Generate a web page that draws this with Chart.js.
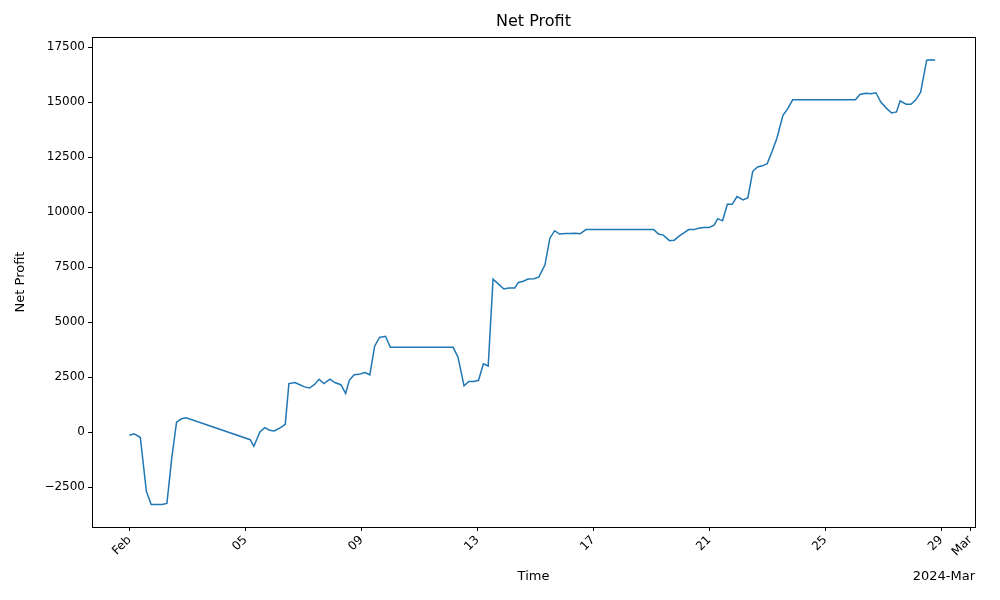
<!DOCTYPE html>
<html><head><script src="https://cdn.jsdelivr.net/npm/chart.js@4"></script>
<style>html,body{margin:0;padding:0;background:#fff}#w{width:1000px;height:600px}</style></head>
<body><div id="w"><canvas id="c"></canvas></div>
<script>
const hours=[0,4,9,14,18,23,27,31,35,39,43,47,100,103,108,112,116,120,125,129,132,137,141,145,149,153,157,161,166,170,175,179,182,186,190,195,199,203,207,212,216,268,272,277,281,285,289,293,297,301,306,310,314,319,322,326,330,335,339,344,348,352,356,361,365,369,373,378,434,438,442,447,451,455,459,463,467,472,476,480,484,487,491,495,499,503,508,512,516,520,524,528,532,536,541,545,549,601,605,610,614,618,622,627,631,635,638,643,647,651,655,660,664,667];
const profit=[-150,-80,-250,-2700,-3300,-3300,-3300,-3250,-1200,450,600,650,-350,-650,0,200,80,50,200,350,2200,2250,2150,2050,2000,2150,2400,2200,2400,2250,2150,1750,2350,2600,2620,2700,2600,3900,4300,4350,3850,3850,3400,2100,2300,2300,2350,3100,3000,6950,6700,6500,6550,6550,6800,6850,6950,6970,7050,7600,8800,9150,9000,9020,9020,9030,9010,9200,9200,9000,8950,8700,8720,8900,9050,9200,9200,9270,9300,9300,9400,9700,9600,10350,10350,10700,10550,10650,11850,12050,12100,12200,12750,13350,14400,14700,15100,15100,15350,15400,15380,15420,15000,14700,14500,14550,15050,14900,14900,15100,15450,16900,16920,16900];
const xTickPos=[0,96,192,288,384,480,576,672,696];
const xTickLabels=['Feb','05','09','13','17','21','25','29','Mar'];
const yTicks=[-2500,0,2500,5000,7500,10000,12500,15000,17500];
const F='DejaVu Sans';
const deco={id:'deco',afterDraw(ch){const c=ch.ctx,a=ch.chartArea;c.save();c.strokeStyle='#000';c.lineWidth=1;
c.strokeRect(a.left+0.5,a.top+0.5,a.right-a.left,a.bottom-a.top);
c.fillStyle='#000';c.textAlign='center';c.textBaseline='middle';
c.font='16px '+F;c.fillText('Net Profit',(a.left+a.right)/2,22);
c.font='13px '+F;c.fillText('Time',(a.left+a.right)/2,577);
c.textAlign='right';c.fillText('2024-Mar',975,577);
c.translate(21,(a.top+a.bottom)/2);c.rotate(-Math.PI/2);c.textAlign='center';c.fillText('Net Profit',0,0);c.restore();}};
new Chart(document.getElementById('c'),{type:'line',
data:{datasets:[{data:hours.map((h,i)=>({x:h,y:profit[i]})),borderColor:'#1f77b4',borderWidth:1.5,pointRadius:0,tension:0}]},
options:{responsive:true,maintainAspectRatio:false,animation:false,layout:{padding:{top:37,right:25,left:0,bottom:0}},
plugins:{legend:{display:false},tooltip:{enabled:false}},
scales:{x:{type:'linear',min:-31,max:700,
afterBuildTicks(s){s.ticks=xTickPos.map(v=>({value:v}));},
afterFit(s){s.height=73;},
ticks:{callback:(v,i)=>xTickLabels[i],minRotation:45,maxRotation:45,color:'#000',font:{family:F,size:12},padding:2},
grid:{drawOnChartArea:false,tickLength:4,color:'#000'},border:{display:false}},
y:{min:-4318,max:17955,
afterBuildTicks(s){s.ticks=yTicks.map(v=>({value:v}));},
afterFit(s){s.width=92;},
ticks:{color:'#000',font:{family:F,size:12},padding:3,callback:v=>v<0?'\u2212'+Math.abs(v):String(v)},
grid:{drawOnChartArea:false,tickLength:4,color:'#000'},border:{display:false}}}},
plugins:[deco]});
</script></body></html>
